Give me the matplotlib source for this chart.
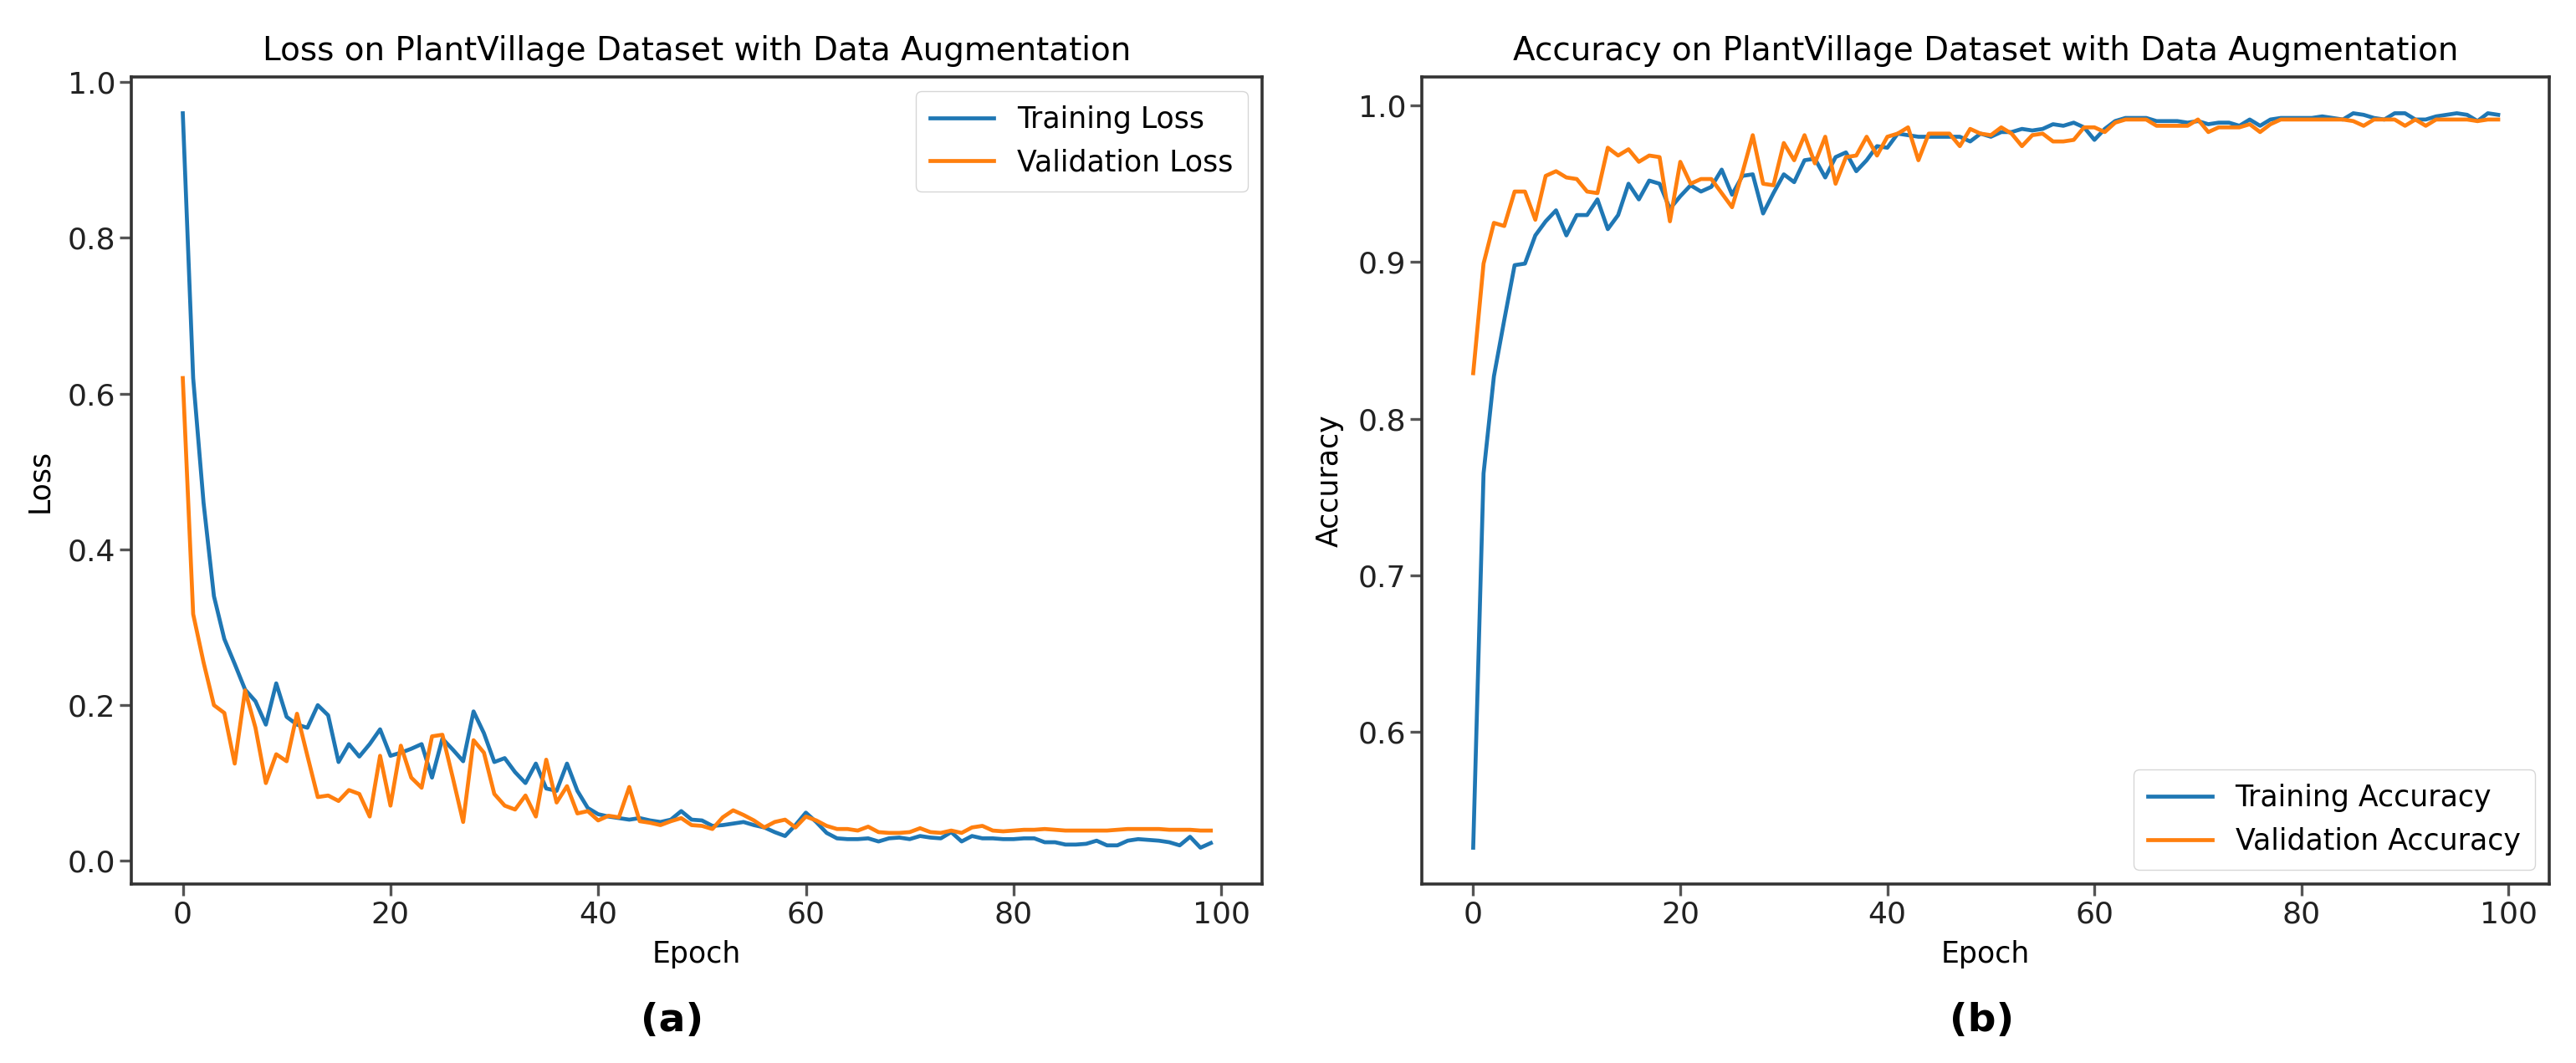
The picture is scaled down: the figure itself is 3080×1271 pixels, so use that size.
import numpy as np
import matplotlib
matplotlib.use("Agg")
import matplotlib.pyplot as plt

# values, one per epoch (0..99)
epochs = np.arange(100)

train_loss = [
    0.96, 0.62, 0.46, 0.34, 0.285, 0.253, 0.22, 0.205, 0.175, 0.228,
    0.185, 0.175, 0.171, 0.2, 0.187, 0.127, 0.15, 0.134, 0.15, 0.169,
    0.135, 0.139, 0.144, 0.15, 0.107, 0.157, 0.143, 0.128, 0.192, 0.164,
    0.127, 0.132, 0.114, 0.1, 0.125, 0.093, 0.09, 0.125, 0.09, 0.068,
    0.06, 0.057, 0.055, 0.053, 0.055, 0.052, 0.05, 0.053, 0.064, 0.053,
    0.052, 0.045, 0.046, 0.048, 0.05, 0.046, 0.043, 0.037, 0.032, 0.046,
    0.062, 0.05, 0.036, 0.029, 0.028, 0.028, 0.029, 0.025, 0.029, 0.03,
    0.028, 0.032, 0.03, 0.029, 0.037, 0.025, 0.032, 0.029, 0.029, 0.028,
    0.028, 0.029, 0.029, 0.024, 0.024, 0.021, 0.021, 0.022, 0.026, 0.02,
    0.02, 0.026, 0.028, 0.027, 0.026, 0.024, 0.02, 0.031, 0.017, 0.023,
]
val_loss = [
    0.62, 0.317, 0.255, 0.2, 0.19, 0.125, 0.219, 0.171, 0.1, 0.137,
    0.128, 0.189, 0.135, 0.082, 0.084, 0.077, 0.091, 0.086, 0.057, 0.135,
    0.071, 0.148, 0.107, 0.094, 0.16, 0.162, 0.107, 0.05, 0.155, 0.139,
    0.086, 0.071, 0.066, 0.084, 0.057, 0.13, 0.075, 0.096, 0.061, 0.064,
    0.052, 0.058, 0.056, 0.095, 0.051, 0.049, 0.046, 0.051, 0.055, 0.046,
    0.045, 0.041, 0.056, 0.065, 0.059, 0.052, 0.043, 0.05, 0.053, 0.043,
    0.057, 0.052, 0.045, 0.041, 0.041, 0.039, 0.044, 0.037, 0.036, 0.036,
    0.037, 0.042, 0.037, 0.036, 0.039, 0.036, 0.043, 0.045, 0.039, 0.038,
    0.039, 0.04, 0.04, 0.041, 0.04, 0.039, 0.039, 0.039, 0.039, 0.039,
    0.04, 0.041, 0.041, 0.041, 0.041, 0.04, 0.04, 0.04, 0.039, 0.039,
]
train_acc = [
    0.526, 0.765, 0.827, 0.863, 0.898, 0.899, 0.917, 0.926, 0.933, 0.917,
    0.930, 0.930, 0.940, 0.921, 0.930, 0.950, 0.940, 0.952, 0.950, 0.934,
    0.942, 0.949, 0.945, 0.948, 0.959, 0.943, 0.955, 0.956, 0.931, 0.944,
    0.956, 0.951, 0.965, 0.966, 0.954, 0.967, 0.970, 0.958, 0.965, 0.974,
    0.973, 0.982, 0.981, 0.980, 0.980, 0.980, 0.980, 0.980, 0.977, 0.982,
    0.980, 0.983, 0.983, 0.985, 0.984, 0.985, 0.988, 0.987, 0.989, 0.986,
    0.978, 0.985, 0.990, 0.992, 0.992, 0.992, 0.990, 0.990, 0.990, 0.989,
    0.990, 0.988, 0.989, 0.989, 0.987, 0.991, 0.987, 0.991, 0.992, 0.992,
    0.992, 0.992, 0.993, 0.992, 0.991, 0.995, 0.994, 0.992, 0.991, 0.995,
    0.995, 0.991, 0.991, 0.993, 0.994, 0.995, 0.994, 0.990, 0.995, 0.994,
]
val_acc = [
    0.829, 0.899, 0.925, 0.923, 0.945, 0.945, 0.927, 0.955, 0.958, 0.954,
    0.953, 0.945, 0.944, 0.973, 0.968, 0.972, 0.964, 0.968, 0.967, 0.926,
    0.964, 0.950, 0.953, 0.953, 0.944, 0.935, 0.957, 0.981, 0.950, 0.949,
    0.976, 0.965, 0.981, 0.963, 0.980, 0.950, 0.967, 0.968, 0.980, 0.968,
    0.980, 0.982, 0.986, 0.965, 0.982, 0.982, 0.982, 0.974, 0.985, 0.982,
    0.981, 0.986, 0.982, 0.974, 0.981, 0.982, 0.977, 0.977, 0.978, 0.986,
    0.986, 0.983, 0.989, 0.991, 0.991, 0.991, 0.987, 0.987, 0.987, 0.987,
    0.991, 0.983, 0.986, 0.986, 0.986, 0.988, 0.983, 0.988, 0.991, 0.991,
    0.991, 0.991, 0.991, 0.991, 0.991, 0.990, 0.987, 0.991, 0.991, 0.991,
    0.987, 0.991, 0.987, 0.991, 0.991, 0.991, 0.991, 0.990, 0.991, 0.991,
]

plt.rcParams["font.family"] = ["DejaVu Sans"]

fig = plt.figure(figsize=(30.8, 12.71), dpi=100)
ax1 = fig.add_axes([0.051, 0.168, 0.439, 0.760])
ax2 = fig.add_axes([0.552, 0.168, 0.4377, 0.760])

LW = 3.4
FS = 25


def style(ax):
    for s in ax.spines.values():
        s.set_linewidth(2.6)
        s.set_color("#333333")
    ax.tick_params(labelsize=FS + 1, length=10, width=2.4, color="#555555", labelcolor="#222222")


# loss panel
ax1.plot(epochs, train_loss, color="#1f77b4", lw=LW, label="Training Loss")
ax1.plot(epochs, val_loss, color="#ff7f0e", lw=LW, label="Validation Loss")
ax1.set_title("Loss on PlantVillage Dataset with Data Augmentation", fontsize=28, pad=14)
ax1.set_xlabel("Epoch", fontsize=FS, labelpad=10)
ax1.set_ylabel("Loss", fontsize=FS, labelpad=12)
ax1.set_yticks([0.0, 0.2, 0.4, 0.6, 0.8, 1.0])
ax1.legend(loc="upper right", fontsize=FS, handlelength=2.2, borderpad=0.5, framealpha=0.8)
style(ax1)

# accuracy panel
ax2.plot(epochs, train_acc, color="#1f77b4", lw=LW, label="Training Accuracy")
ax2.plot(epochs, val_acc, color="#ff7f0e", lw=LW, label="Validation Accuracy")
ax2.set_title("Accuracy on PlantVillage Dataset with Data Augmentation", fontsize=28, pad=14)
ax2.set_xlabel("Epoch", fontsize=FS, labelpad=10)
ax2.set_ylabel("Accuracy", fontsize=FS, labelpad=12)
ax2.set_yticks([0.6, 0.7, 0.8, 0.9, 1.0])
ax2.legend(loc="lower right", fontsize=FS, handlelength=2.2, borderpad=0.5, framealpha=0.8)
style(ax2)

fig.text(0.261, 0.040, "(a)", fontsize=34, fontweight="bold", ha="center", va="center")
fig.text(0.7695, 0.040, "(b)", fontsize=34, fontweight="bold", ha="center", va="center")

fig.savefig("out.png", dpi=100)
